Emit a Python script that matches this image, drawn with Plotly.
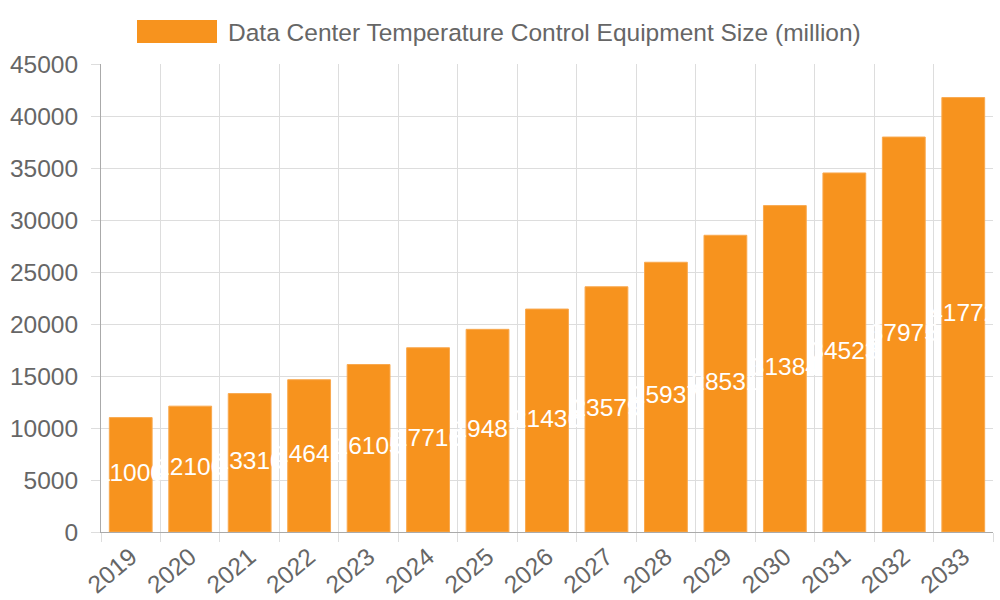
import plotly.graph_objects as go

years = ["2019", "2020", "2021", "2022", "2023", "2024", "2025", "2026",
         "2027", "2028", "2029", "2030", "2031", "2032", "2033"]
sizes = [11000, 12100, 13310, 14641, 16105, 17716, 19487, 21436,
         23579, 25937, 28531, 31384, 34523, 37975, 41772]
series_name = "Data Center Temperature Control Equipment Size (million)"
y_ticks = [0, 5000, 10000, 15000, 20000, 25000, 30000, 35000, 40000, 45000]

BAR = "#F7931E"
GRID = "#DDDDDD"
TXT = "#666666"
FONT = "Liberation Sans, Arial, sans-serif"
FS = 24.5

xs = list(range(len(years)))

fig = go.Figure()
fig.add_trace(go.Bar(
    x=xs, y=sizes, width=0.72, name=series_name,
    marker=dict(color=BAR, line=dict(color="#F9A94F", width=1)),
    showlegend=False, hoverinfo="skip",
))
fig.add_trace(go.Scatter(
    x=xs, y=[v / 2 for v in sizes], mode="text",
    text=[str(v) for v in sizes],
    textfont=dict(color="white", size=FS, family=FONT),
    textposition="middle center", showlegend=False, hoverinfo="skip",
))

fig.update_layout(
    width=1000, height=600,
    margin=dict(l=101, r=7, t=64, b=68),
    paper_bgcolor="white", plot_bgcolor="white",
    font=dict(family=FONT, color=TXT, size=FS),
    xaxis=dict(
        range=[-0.5, len(years) - 0.5], automargin=False,
        tickmode="array", tickvals=xs, ticktext=years,
        tickangle=-40, showgrid=False, ticks="",
        tickfont=dict(size=FS, color=TXT),
        showline=True, linecolor="#AAAAAA", linewidth=1,
        zeroline=False,
        minor=dict(tick0=-0.5, dtick=1, showgrid=True, gridcolor=GRID,
                   gridwidth=1, ticks="outside", ticklen=9, tickcolor=GRID),
    ),
    yaxis=dict(
        range=[0, 45000], tickmode="array", tickvals=y_ticks,
        ticktext=[str(t) for t in y_ticks], automargin=False,
        showgrid=True, gridcolor=GRID, gridwidth=1,
        ticks="outside", ticklen=9, tickcolor=GRID,
        ticklabelstandoff=8,
        showline=True, linecolor="#AAAAAA", linewidth=1,
        zeroline=False, tickfont=dict(size=FS, color=TXT),
    ),
    shapes=[dict(type="rect", xref="paper", yref="paper",
                 x0=(137 - 101) / 892, x1=(217 - 101) / 892,
                 y0=(532 - 43) / 468, y1=(532 - 20) / 468,
                 fillcolor=BAR, line=dict(width=0))],
    annotations=[dict(text=series_name, xref="paper", yref="paper",
                      x=(226 - 101) / 892, y=(532 - 32) / 468,
                      xanchor="left", yanchor="middle", showarrow=False,
                      font=dict(size=FS, color=TXT, family=FONT))],
)

fig.write_html("out.html", config={"displayModeBar": False},
               post_script="document.body.style.margin='0';")
